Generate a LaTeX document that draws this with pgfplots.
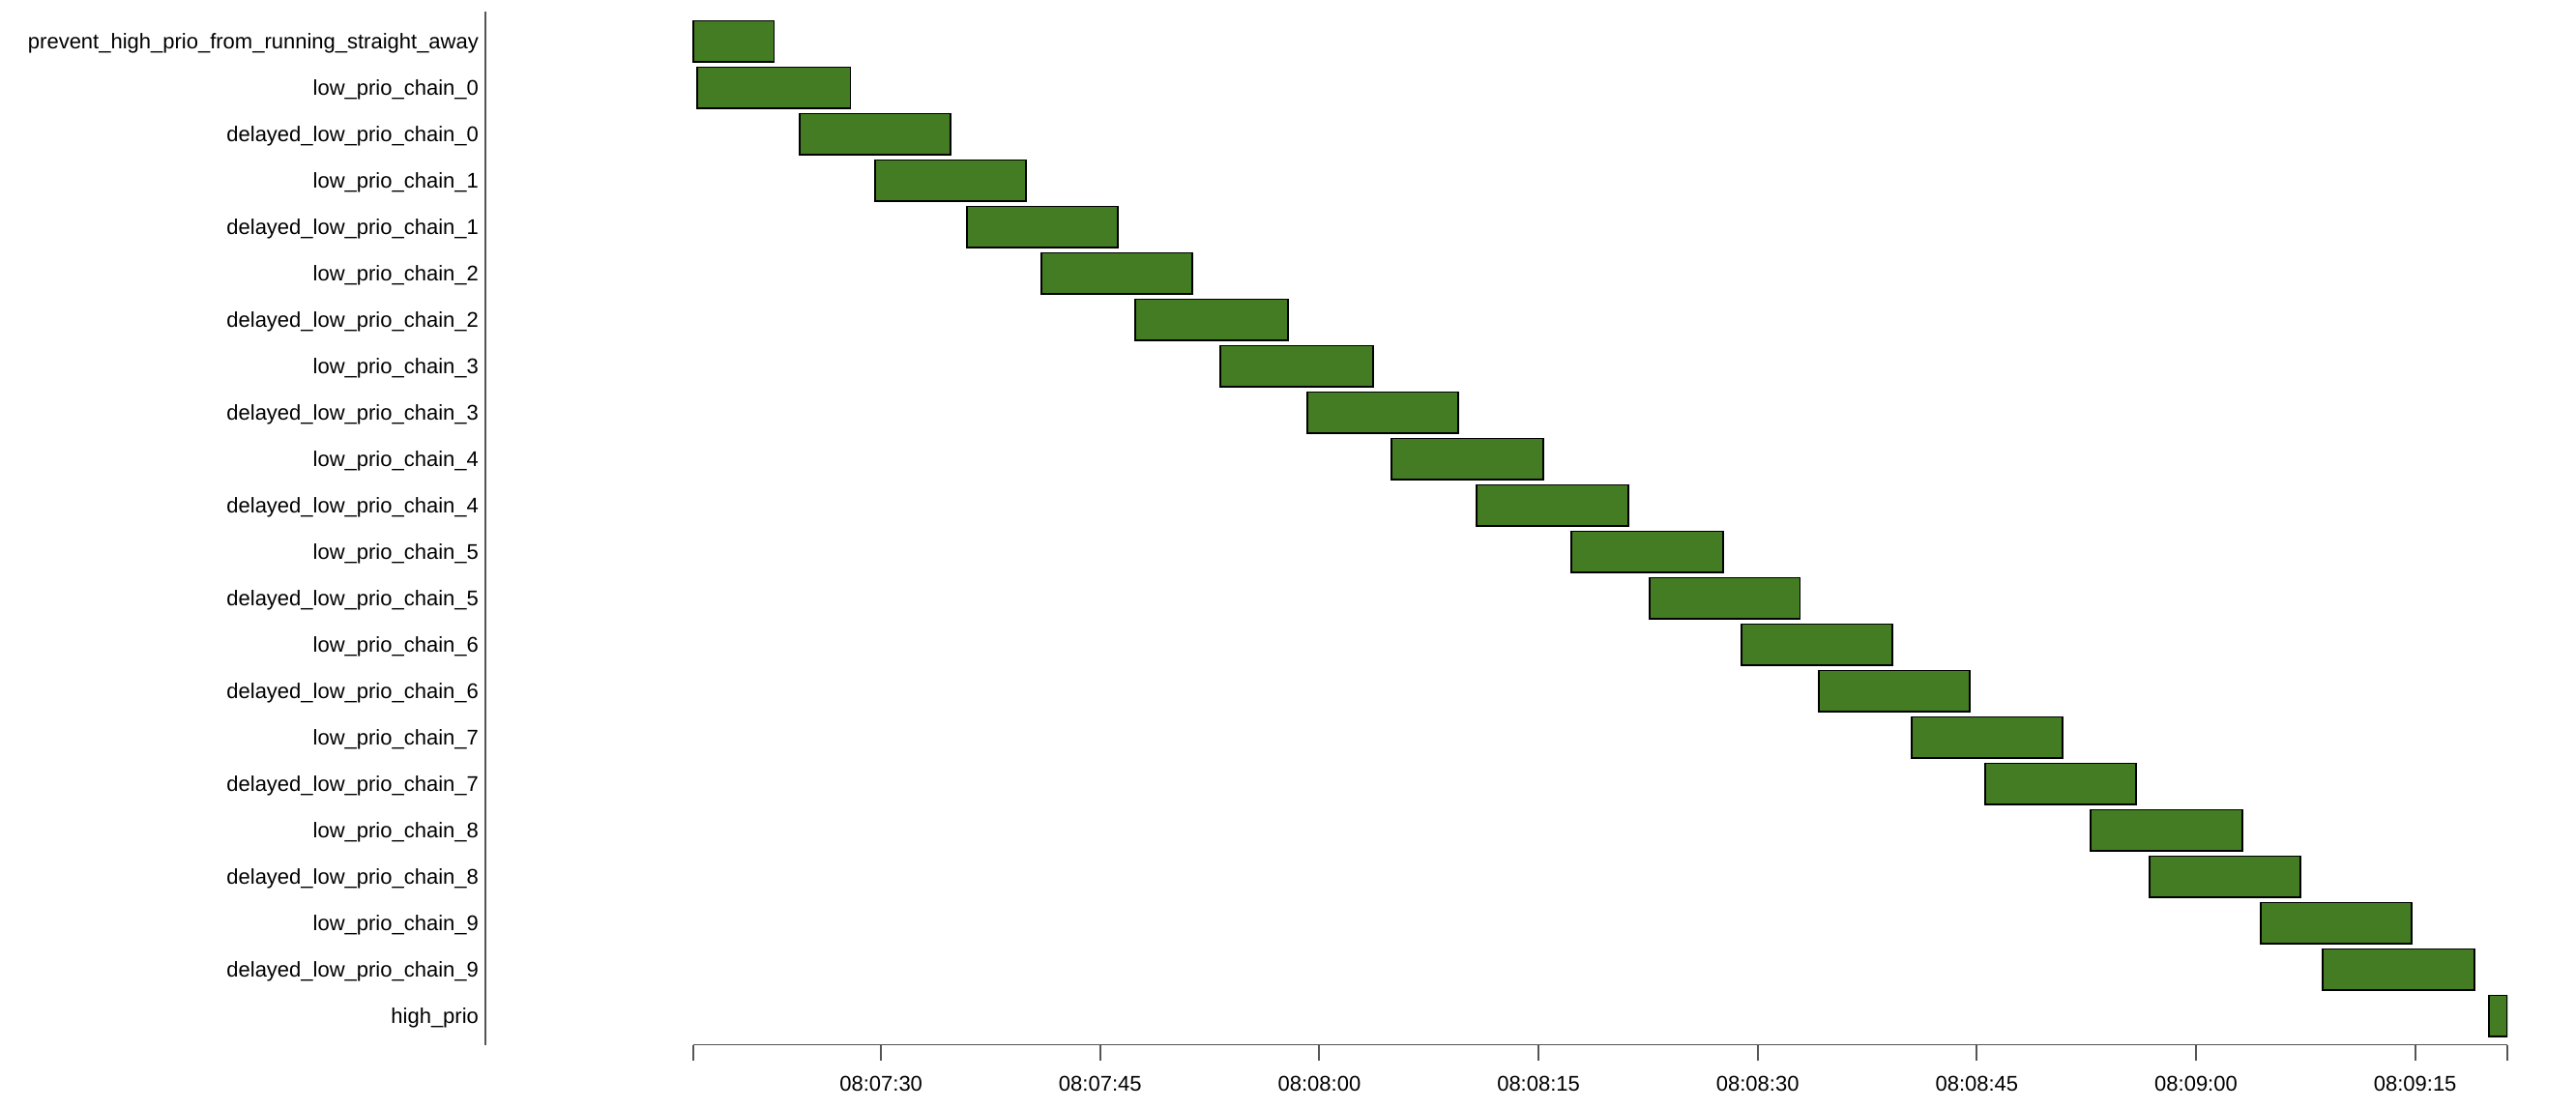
\documentclass[border=0pt]{standalone}
\usepackage{pgfplots}
\pgfplotsset{compat=1.18}
\usepackage{pgfplotstable}
\usepackage{fontspec}
\setmainfont{Liberation Sans}
\definecolor{barg}{HTML}{437C22}
\definecolor{axg}{HTML}{555555}

\pgfplotstableread{
y start dur
21 17.15 5.52
20 17.40 10.50
19 24.43 10.33
18 29.58 10.32
17 35.86 10.33
16 40.96 10.32
15 47.40 10.44
14 53.20 10.50
13 59.20 10.32
12 64.92 10.39
11 70.78 10.35
10 77.25 10.41
9 82.59 10.30
8 88.90 10.34
7 94.19 10.30
6 100.52 10.37
5 105.55 10.33
4 112.77 10.41
3 116.82 10.35
2 124.41 10.35
1 128.69 10.35
0 140.03 1.28
}\tasks

\begin{document}
\begin{tikzpicture}[x=1pt,y=1pt]
\path[use as bounding box] (0,0) rectangle (1332,573);
\begin{axis}[
  at={(251pt,32.65pt)}, anchor=south west,
  scale only axis, width=1045.5pt, height=534.35pt,
  xmin=2.92, xmax=141.31, ymin=-0.623, ymax=21.642,
  xbar stacked, bar width=0.885,
  axis x line*=bottom, axis y line*=left,
  x axis line style={draw=none},
  y axis line style={axg, line width=1pt},
  xtick={30,45,60,75,90,105,120,135},
  xticklabels={08:07:30,08:07:45,08:08:00,08:08:15,08:08:30,08:08:45,08:09:00,08:09:15},
  extra x ticks={17.15,141.31}, extra x tick labels={},
  tick align=outside, major tick length=8pt,
  every tick/.style={axg, line width=1pt},
  ytick={0,...,21},
  yticklabels={high\_prio,delayed\_low\_prio\_chain\_9,low\_prio\_chain\_9,delayed\_low\_prio\_chain\_8,low\_prio\_chain\_8,delayed\_low\_prio\_chain\_7,low\_prio\_chain\_7,delayed\_low\_prio\_chain\_6,low\_prio\_chain\_6,delayed\_low\_prio\_chain\_5,low\_prio\_chain\_5,delayed\_low\_prio\_chain\_4,low\_prio\_chain\_4,delayed\_low\_prio\_chain\_3,low\_prio\_chain\_3,delayed\_low\_prio\_chain\_2,low\_prio\_chain\_2,delayed\_low\_prio\_chain\_1,low\_prio\_chain\_1,delayed\_low\_prio\_chain\_0,low\_prio\_chain\_0,prevent\_high\_prio\_from\_running\_straight\_away},
  ytick style={draw=none},
  tick label style={font=\fontsize{11}{13}\selectfont, text=black},
  yticklabel style={anchor=base east, xshift=8pt, yshift=-4pt},
  xticklabel style={anchor=base, yshift=-15.8pt},
]
\addplot[draw=none, fill=none, forget plot] table[x=start, y=y] {\tasks};
\addplot[fill=barg, draw=black, line width=0.9pt] table[x=dur, y=y] {\tasks};
\draw[axg, line width=1pt] (axis cs:17.15,-0.623) -- (axis cs:141.31,-0.623);
\end{axis}
\end{tikzpicture}
\end{document}
